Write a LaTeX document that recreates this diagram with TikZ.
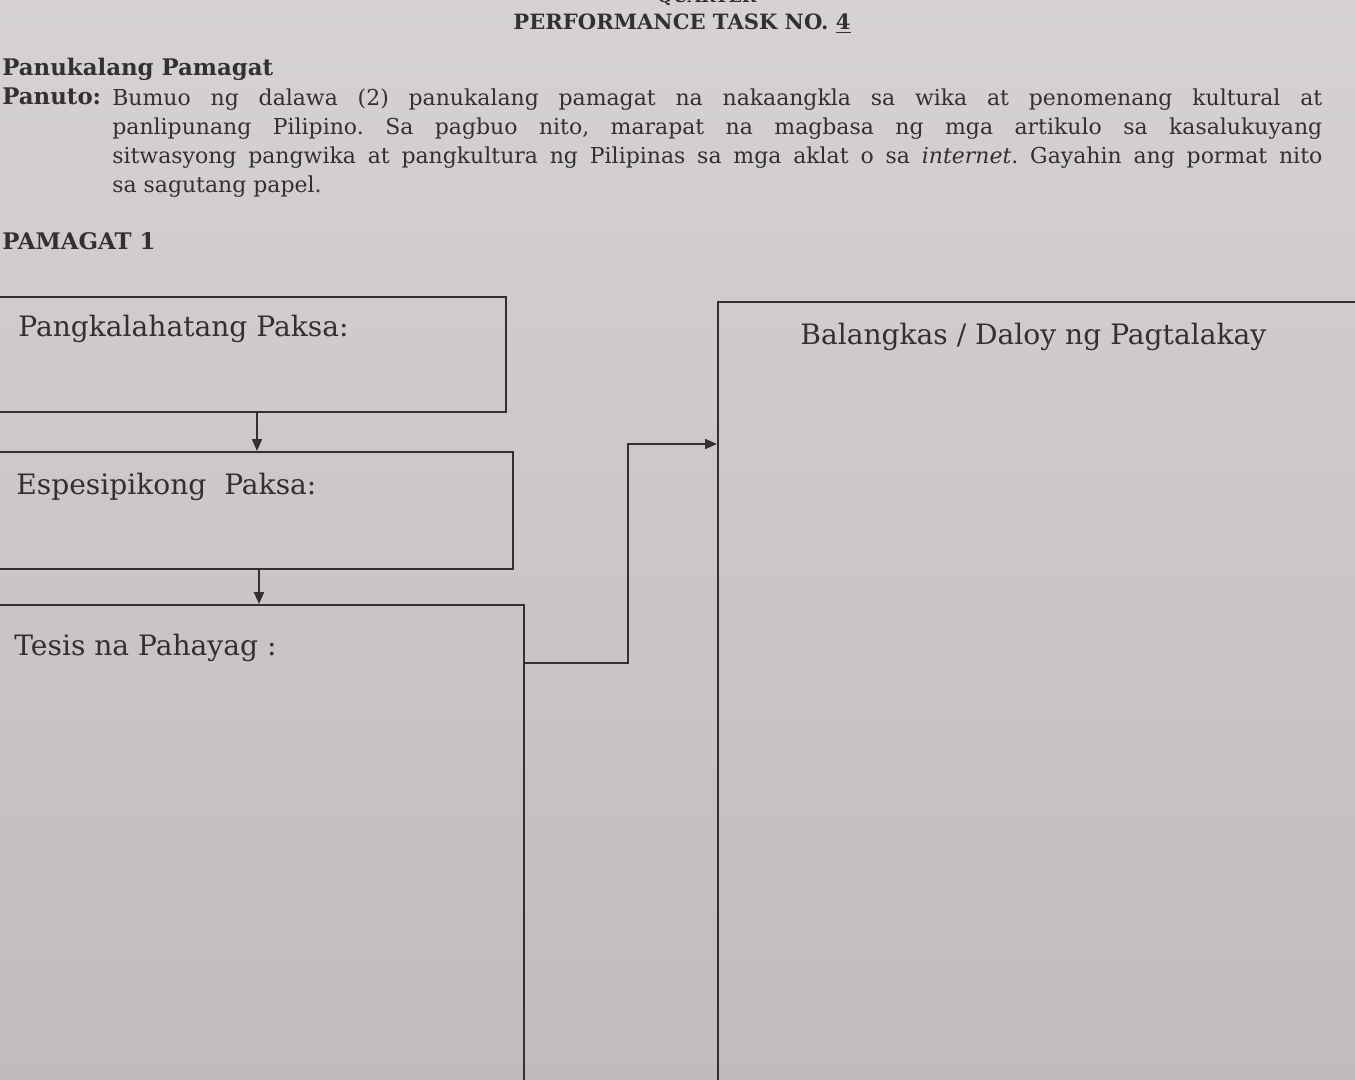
\documentclass[tikz,border=0pt]{standalone}
\usepackage{fontspec}
\setmainfont{DejaVu Serif}
\usetikzlibrary{arrows.meta,positioning}
\definecolor{paper}{RGB}{200,195,198}
\definecolor{ink}{RGB}{50,48,50}

\begin{document}
\frenchspacing
\begin{tikzpicture}[box/.style={rectangle, draw=ink, line width=1.1pt, inner sep=0pt}, flow/.style={draw=ink, line width=1.1pt, -{Triangle[length=2.4mm,width=2mm]}}, caption/.style={anchor=base west, inner sep=0pt, text=ink, font=\fontsize{16}{19}\selectfont}, heading/.style={anchor=base west, inner sep=0pt, text=ink, font=\bfseries\fontsize{13}{16}\selectfont}]
  \useasboundingbox (0,0) rectangle (27.1,-21.6);
  \clip (0,0) rectangle (27.1,-21.6);
  \shade[top color=paper!75!white, bottom color=paper!96!black] (0,0) rectangle (27.1,-21.6);
  % header
  \node[anchor=base, inner sep=0pt, text=ink, font=\bfseries\fontsize{10}{12}\selectfont] (quarter) at (14.14,-0.06) {QUARTER};
  \node[anchor=base, inner sep=0pt, text=ink, font=\bfseries\fontsize{12}{14}\selectfont] (task) at (13.64,-0.60) {PERFORMANCE TASK NO. \underline{4}};
  \node[heading] (pamagat) at (0.04,-1.52) {Panukalang Pamagat};
  \node[heading] (panuto) at (0.04,-2.10) {Panuto:};
  \node[anchor=north west, inner sep=0pt, text width=24.2cm, align=justify, text=ink, font=\fontsize{12.5}{16.5}\selectfont] (directions) at (2.24,-1.77) {Bumuo ng dalawa (2) panukalang pamagat na nakaangkla sa wika at penomenang kultural at\linebreak panlipunang Pilipino. Sa pagbuo nito, marapat na magbasa ng mga artikulo sa kasalukuyang\linebreak sitwasyong pangwika at pangkultura ng Pilipinas sa mga aklat o sa \textit{internet}. Gayahin ang pormat nito\linebreak sa sagutang papel.};
  \node[heading] (pamagatone) at (0.04,-5.0) {PAMAGAT 1};
  % boxes
  \node[box, minimum width=10.52cm, minimum height=2.30cm] (general) at (4.86,-7.09) {};
  \node[box, minimum width=10.66cm, minimum height=2.34cm] (specific) at (4.93,-10.21) {};
  \node[box, minimum width=10.88cm, minimum height=10.3cm] (thesis) at (5.04,-17.25) {};
  \node[box, minimum width=13.64cm, minimum height=16.4cm] (outline) at (21.18,-14.24) {};
  \node[caption] (generallabel) at (0.36,-6.74) {Pangkalahatang Paksa:};
  \node[caption] (specificlabel) at (0.32,-9.88) {Espesipikong~ Paksa:};
  \node[caption] (thesislabel) at (0.28,-13.10) {Tesis na Pahayag :};
  \node[caption] (outlinelabel) at (16.0,-6.90) {Balangkas / Daloy ng Pagtalakay};
  % connectors
  \draw[flow] ([xshift=0.28cm]general.south) -- ([xshift=0.28cm]general.south |- specific.north);
  \draw[flow] ([xshift=0.25cm]specific.south) -- ([xshift=0.25cm]specific.south |- thesis.north);
  \coordinate (jog) at (12.56,-13.26);
  \draw[flow] (jog -| thesis.east) -- (jog) |- (outline.west |- 0,-8.88);
\end{tikzpicture}
\end{document}
